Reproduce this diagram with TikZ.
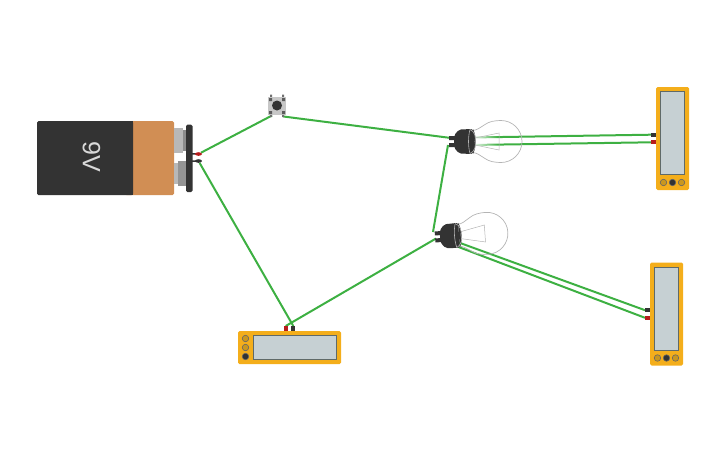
\documentclass[tikz,border=0pt]{standalone}
\usepackage{fontspec}
\setmainfont{Liberation Sans}
\usetikzlibrary{backgrounds,fadings,shapes.geometric}
\definecolor{wiregreen}{HTML}{3DB042}
\definecolor{darkbody}{HTML}{333333}
\definecolor{copper}{HTML}{D18E54}
\definecolor{meteror}{HTML}{F4AE1B}
\definecolor{btnface}{HTML}{C9971F}
\definecolor{screen}{HTML}{C6D0D3}
\definecolor{screenedge}{HTML}{606A68}
\definecolor{probered}{HTML}{B71C1C}
\definecolor{glassline}{HTML}{B4B4B4}
\tikzset{
  wire/.style={draw=wiregreen,line width=2pt},
  btn/.style={circle,draw=darkbody!75,line width=.6pt,minimum size=6.5pt,inner sep=0pt},
  pics/meter/.style n args={3}{code={
    \fill[meteror,rounded corners=1.5pt] (-16.5,-51.5) rectangle (16.5,51.5);
    \draw[screenedge,fill=screen,line width=1pt] (-12.5,-47) rectangle (12,36);
    \node[btn,fill=#1] at (-9,44) {};
    \node[btn,fill=#2] at (0,44) {};
    \node[btn,fill=#3] at (9,44) {};
    \fill[darkbody] (-21.5,-5.7) rectangle (-16.5,-1.9);
    \fill[probered] (-21.5,1.9) rectangle (-16.5,5.7);
    \coordinate (-blk) at (-21.5,-3.8);
    \coordinate (-red) at (-21.5,3.8);
  }},
  pics/bulb/.style={code={
    \draw[glassline,line width=.7pt] (9,-11) .. controls (14,-11) and (17,-14) .. (22,-17)
      .. controls (26,-20) and (32,-21) .. (38,-21)
      .. controls (49.6,-21) and (59,-11.6) .. (59,0)
      .. controls (59,11.6) and (49.6,21) .. (38,21)
      .. controls (32,21) and (26,20) .. (22,17)
      .. controls (17,14) and (14,11) .. (9,11);
    \draw[glassline,line width=.5pt] (12,-3.5) -- (36,-8.5) -- (36,8.5) -- (12,3.5);
    \fill[darkbody] (-14,-5.5) rectangle (-8,-1.5) (-14,1.5) rectangle (-8,5.5);
    \fill[darkbody,rounded corners=2pt] (-9,-6) -- (-4,-12) -- (10,-12.5) -- (10,12.5) -- (-4,12) -- (-9,6) -- cycle;
    \fill[darkbody] (10,-12.5) .. controls (13.5,-6) and (13.5,6) .. (10,12.5) -- cycle;
    \draw[glassline,line width=.6pt] (7,-12) .. controls (5,-5) and (5,5) .. (7,12);
    \draw[glassline,line width=.6pt] (7,-12) .. controls (12,-10) and (13,-4) .. (12,0) .. controls (13,4) and (12,10) .. (7,12);
    \coordinate (-a) at (-14,-3.5);
    \coordinate (-b) at (-14,3.5);
  }}
}
\begin{document}
\begin{tikzpicture}[x=1pt,y=-1pt]
\useasboundingbox (0,0) rectangle (725,453);
% battery
\fill[copper,rounded corners=1.5pt] (125,121) rectangle (174,195);
\fill[darkbody,rounded corners=1.5pt] (37,121) rectangle (133,195);
\fill[darkbody] (125,121) rectangle (132.6,195);
\node[rotate=-90,text=white!85!black,font=\fontsize{25}{25}\selectfont] (volt) at (91.5,157) {9V};
\fill[white!72!black] (174,128) rectangle (183,152.5);
\fill[white!55!black] (183,130) rectangle (186,151);
\fill[white!72!black] (174,163) rectangle (178,184);
\fill[white!58!black] (178,160.5) rectangle (188,186);
\fill[darkbody,rounded corners=1.5pt] (186,124.5) rectangle (192.5,192);
\fill[darkbody] (192,153.2) rectangle (198,154.6) (192,160.4) rectangle (198,161.8);
\node[fill=probered,ellipse,inner sep=0pt,minimum width=7pt,minimum height=3.6pt] (bred) at (198.5,154) {};
\node[fill=darkbody,ellipse,inner sep=0pt,minimum width=7pt,minimum height=3.6pt] (bblk) at (198.5,161) {};
% switch
\fill[darkbody!70] (270,94.5) rectangle (272,98) (282,94.5) rectangle (284,98) (270,114) rectangle (272,117) (282,114) rectangle (284,117);
\fill[white!78!black] (268,97) rectangle (286,115);
\fill[darkbody!80] (269,98) rectangle (272,101) (282,98) rectangle (285,101) (269,111) rectangle (272,114) (282,111) rectangle (285,114);
\node[circle,fill=darkbody,minimum size=10pt,inner sep=0pt] (sw) at (277,105.5) {};
\coordinate (swl) at (272,115.5);
\coordinate (swr) at (283.5,116.5);
% bulbs and meters
\pic (b1) at (463,141.5) {bulb};
\pic[rotate=4] (b2) at (449,236) {bulb};
\pic (m1) at (672.5,138.5) {meter={btnface}{darkbody}{btnface}};
\pic (m2) at (666.5,314) {meter={btnface}{darkbody}{btnface}};
\pic[rotate=-90] (m3) at (289.5,347.5) {meter={btnface}{btnface}{darkbody}};
% wires
\begin{scope}[on background layer]
  \coordinate (c1a) at (470,137.5);
  \coordinate (c1b) at (470,145);
  \coordinate (c2a) at (456,241.5);
  \coordinate (c2b) at (452,244.5);
  \coordinate (t1a) at (451,138);
  \coordinate (t1b) at (448,145);
  \coordinate (t2a) at (433,232);
  \coordinate (t2b) at (436,238.5);
  \draw[wire] (bred) -- (swl);
  \draw[wire] (swr) -- (t1a);
  \draw[wire] (t1b) -- (t2a);
  \draw[wire] (t2b) -- (m3-red);
  \draw[wire] (bblk) -- (m3-blk);
  \draw[wire] (c1a) -- (m1-blk);
  \draw[wire] (c1b) -- (m1-red);
  \draw[wire] (c2a) -- (m2-blk);
  \draw[wire] (c2b) -- (m2-red);
  \fill[white,path fading=east,opacity=.85] (475,132) rectangle (498,151);
\end{scope}
\end{tikzpicture}
\end{document}
